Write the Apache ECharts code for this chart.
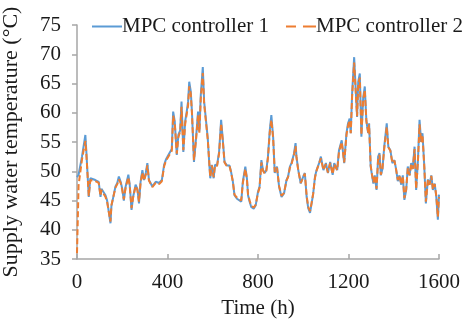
<!DOCTYPE html>
<html>
<head>
<meta charset="utf-8">
<script src="https://cdn.jsdelivr.net/npm/echarts@6/dist/echarts.min.js"></script>
<style>
html,body{margin:0;padding:0;background:#fff;}
#chart{width:474px;height:327px;}
</style>
</head>
<body>
<div id="chart"></div>
<script>
const seriesNames = ['MPC controller 1', 'MPC controller 2'];
const xTicks = [0, 400, 800, 1200, 1600];
const yTicks = [35, 40, 45, 50, 55, 60, 65, 70, 75];

const timeH = [
  0, 7, 22, 37, 41, 52, 59, 81, 96, 104,
  108, 126, 133, 148, 152, 170, 178, 185, 193, 200,
  207, 215, 227, 233, 241, 248, 259, 267, 274, 281,
  289, 296, 304, 311, 318, 333, 348, 363, 375, 385,
  393, 407, 419, 425, 432, 441, 448, 456, 462, 470,
  478, 485, 491, 496, 503, 508, 517, 526, 535, 541,
  547, 556, 562, 570, 578, 585, 589, 596, 604, 610,
  619, 628, 637, 644, 652, 662, 674, 681, 689, 696,
  707, 715, 726, 733, 744, 751, 756, 763, 770, 781,
  790, 800, 807, 815, 822, 830, 837, 844, 852, 859,
  867, 874, 884, 893, 904, 915, 926, 933, 941, 948,
  959, 966, 970, 978, 989, 1000, 1007, 1015, 1022, 1030,
  1037, 1044, 1052, 1059, 1070, 1078, 1089, 1100, 1109, 1119,
  1130, 1137, 1150, 1158, 1170, 1181, 1191, 1198, 1205, 1210,
  1216, 1225, 1232, 1238, 1243, 1250, 1257, 1265, 1272, 1279,
  1287, 1291, 1298, 1304, 1310, 1316, 1324, 1331, 1337, 1343,
  1350, 1358, 1369, 1376, 1385, 1394, 1403, 1410, 1418, 1425,
  1433, 1440, 1447, 1455, 1462, 1470, 1477, 1484, 1492, 1499,
  1507, 1514, 1521, 1527, 1535, 1542, 1551, 1558, 1566, 1573,
  1581, 1588, 1595, 1600
];

const mpc1 = [
  49, 49.4, 52.5, 56.2, 53.6, 45.6, 48.8, 48.5, 48.2, 45.6,
  47, 45.9, 45, 41.1, 44, 47.4, 48, 49.1, 48.2, 47,
  45, 47.4, 49.4, 47.7, 43.4, 45.6, 47.7, 47, 44.5, 48.2,
  50.2, 48.5, 49.7, 51.4, 48.5, 47.4, 48.2, 48, 48.5, 51.1,
  52, 53, 53.8, 60.2, 58.5, 52.8, 56.2, 57, 61.9, 53.3,
  58.5, 60.2, 61.9, 65.3, 63.6, 60.2, 51.6, 55.6, 60.2, 56.8,
  63, 67.8, 61.9, 62, 55.6, 51.1, 48.8, 51.1, 48.8, 51.1,
  51, 53.3, 58.8, 55.6, 51.6, 51, 51, 49.9, 48.2, 45.9,
  45.3, 45.3, 44.8, 48.2, 50.8, 48.8, 45.9, 44.8, 43.9, 43.6,
  44.2, 46.5, 47.4, 51.9, 50.2, 49.7, 50.2, 52.5, 57, 59.6,
  55.8, 49.7, 50.8, 47.4, 45.6, 46.2, 48.5, 49.1, 50.8, 51.4,
  53, 54.8, 52.5, 50.2, 47.9, 49.1, 49.7, 45.6, 43.7, 42.9,
  44.5, 46.2, 49.1, 50.2, 51.4, 52.5, 50.2, 51.4, 49.7, 51.6,
  49.4, 51.4, 50.2, 53.6, 55.3, 51.4, 56.5, 58.2, 59, 56.5,
  63.3, 69.5, 63.9, 59.3, 65.3, 66.7, 55.9, 62.6, 64.5, 58.6,
  56.5, 58.2, 50.8, 49.3, 47.9, 49.3, 46.8, 52.5, 53.1, 49.3,
  50.4, 54.2, 58.2, 54.2, 53.6, 51.4, 51.9, 50.4, 48.3, 49.3,
  47.7, 49.3, 45.1, 46.8, 50.8, 49.3, 51.4, 50.4, 54.2, 46.8,
  51.9, 58.8, 55, 56.5, 50.8, 44.5, 48.6, 47.7, 49.3, 46.8,
  47.9, 45.6, 41.7, 46
];

const mpc2 = [
  36, 47.6, 52, 55.2, 53.2, 45.8, 48.5, 48.3, 48, 45.8,
  46.8, 45.6, 44.8, 41.4, 44.2, 47.2, 47.8, 48.6, 48, 46.8,
  45.2, 47.2, 49, 47.5, 43.7, 45.5, 47.5, 46.8, 44.8, 48,
  49.8, 48.4, 49.4, 51, 48.4, 47.3, 48, 47.8, 48.3, 50.8,
  51.8, 52.7, 53.5, 59.5, 58.2, 53, 55.8, 56.8, 61, 53.6,
  58, 59.8, 61.2, 64.5, 63.2, 60, 51.9, 55.3, 59.6, 56.6,
  62.4, 66.8, 61.5, 61.6, 55.4, 51.3, 49, 51, 49, 51,
  50.9, 53, 58.2, 55.4, 51.5, 50.9, 50.9, 49.8, 48.2, 46,
  45.5, 45.4, 45, 48, 50.4, 48.7, 46, 45, 44.1, 43.8,
  44.3, 46.3, 47.2, 51.5, 50.1, 49.6, 50.1, 52.3, 56.6, 58.8,
  55.6, 49.9, 50.6, 47.5, 45.8, 46.3, 48.4, 49, 50.6, 51.2,
  52.8, 54.3, 52.4, 50.1, 48, 49, 49.6, 45.8, 43.9, 43.2,
  44.6, 46.2, 48.9, 50.1, 51.3, 52.2, 50.2, 51.2, 49.8, 51.4,
  49.5, 51.2, 50.2, 53.3, 55, 51.5, 56.2, 57.8, 58.7, 56.5,
  62.8, 68.6, 63.5, 59.4, 64.8, 66, 56.2, 62.2, 63.9, 58.6,
  56.6, 58, 51, 49.4, 48.1, 49.3, 47, 52.2, 52.8, 49.4,
  50.4, 53.9, 57.6, 54.1, 53.5, 51.4, 51.8, 50.4, 48.5, 49.3,
  47.8, 49.2, 45.4, 46.9, 50.5, 49.3, 51.2, 50.4, 53.8, 47,
  51.7, 58, 55, 56.2, 50.8, 44.8, 48.5, 47.7, 49.2, 46.9,
  47.8, 45.8, 42.2, 45.6
];

const pairs = (xs, ys) => xs.map((x, i) => [x, ys[i]]);
const FONT = '"Liberation Serif", "Times New Roman", serif';
const AXIS_COLOR = '#a6a6a6';
const TEXT_COLOR = '#1a1a1a';
const FS = 21;

const chart = echarts.init(document.getElementById('chart'), null, {renderer: 'canvas'});
chart.setOption({
  animation: false,
  backgroundColor: '#ffffff',
  textStyle: {fontFamily: FONT, color: TEXT_COLOR},
  legend: {
    data: [
      {name: seriesNames[0], icon: 'path://M0,0H30V2H0Z'},
      {name: seriesNames[1], icon: 'path://M0,0H10V2H0Z M17,0H30V2H17Z'}
    ],
    left: 92,
    top: 16,
    padding: 0,
    itemWidth: 30,
    itemHeight: 2,
    itemGap: 17,
    textStyle: {fontFamily: FONT, fontSize: FS, color: TEXT_COLOR, padding: [0, 0, 0, -5]}
  },
  grid: {left: 77, right: 35, top: 25, bottom: 68, containLabel: false, outerBoundsMode: 'none'},
  xAxis: {
    type: 'value',
    min: xTicks[0],
    max: xTicks[xTicks.length - 1],
    interval: xTicks[1] - xTicks[0],
    name: 'Time (h)',
    nameLocation: 'middle',
    nameGap: 37,
    nameTextStyle: {fontFamily: FONT, fontSize: FS, color: TEXT_COLOR},
    axisLine: {show: true, lineStyle: {color: AXIS_COLOR, width: 1.5}},
    axisTick: {show: true, inside: true, length: 5, lineStyle: {color: AXIS_COLOR, width: 1.5}},
    axisLabel: {fontFamily: FONT, fontSize: FS, color: TEXT_COLOR, margin: 13, formatter: v => String(v)},
    splitLine: {show: false}
  },
  yAxis: {
    type: 'value',
    min: yTicks[0],
    max: yTicks[yTicks.length - 1],
    interval: yTicks[1] - yTicks[0],
    name: 'Supply water temperature (°C)',
    nameLocation: 'middle',
    nameGap: 55,
    nameTextStyle: {fontFamily: FONT, fontSize: 22, color: TEXT_COLOR},
    axisLine: {show: true, lineStyle: {color: AXIS_COLOR, width: 1.5}},
    axisTick: {show: true, inside: false, length: 5, lineStyle: {color: AXIS_COLOR, width: 1.5}},
    axisLabel: {fontFamily: FONT, fontSize: FS, color: TEXT_COLOR, margin: 16, formatter: v => String(v)},
    splitLine: {show: false}
  },
  series: [
    {
      name: seriesNames[0],
      type: 'line',
      data: pairs(timeH, mpc1),
      symbol: 'none',
      lineStyle: {color: '#5B9BD5', width: 2},
      itemStyle: {color: '#5B9BD5'},
      z: 2
    },
    {
      name: seriesNames[1],
      type: 'line',
      data: pairs(timeH, mpc2),
      symbol: 'none',
      lineStyle: {color: '#ED7D31', width: 2, type: [6, 3]},
      itemStyle: {color: '#ED7D31'},
      z: 3
    }
  ]
});
</script>
</body>
</html>
